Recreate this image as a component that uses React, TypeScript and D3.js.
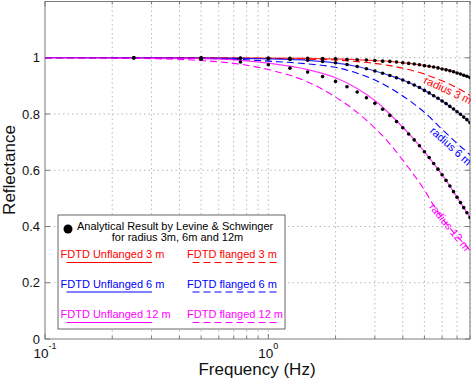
import React from "react";
import * as d3 from "d3";

// Analytical (Levine & Schwinger) points
const ANALYTIC_FREQ = [0.25, 0.5, 0.75, 1, 1.25, 1.5, 1.75, 2, 2.25, 2.5, 2.75, 3, 3.25, 3.5, 3.75, 4, 4.25, 4.5, 4.75, 5, 5.25, 5.5, 5.75, 6, 6.25, 6.5, 6.75, 7, 7.25, 7.5, 7.75, 8];
const ANALYTIC_3M = [1.0, 1.0, 0.999, 0.999, 0.998, 0.998, 0.997, 0.996, 0.994, 0.993, 0.992, 0.99, 0.988, 0.987, 0.985, 0.982, 0.98, 0.978, 0.975, 0.972, 0.97, 0.967, 0.964, 0.96, 0.957, 0.954, 0.95, 0.946, 0.942, 0.938, 0.934, 0.93];
const ANALYTIC_6M = [1.0, 0.999, 0.998, 0.996, 0.994, 0.991, 0.987, 0.982, 0.976, 0.969, 0.961, 0.953, 0.945, 0.937, 0.929, 0.921, 0.912, 0.903, 0.894, 0.884, 0.875, 0.865, 0.856, 0.846, 0.837, 0.827, 0.818, 0.808, 0.799, 0.789, 0.78, 0.77];
const ANALYTIC_12M = [0.999, 0.995, 0.985, 0.975, 0.963, 0.949, 0.933, 0.916, 0.897, 0.878, 0.858, 0.838, 0.817, 0.795, 0.773, 0.751, 0.729, 0.708, 0.687, 0.666, 0.645, 0.624, 0.604, 0.584, 0.564, 0.544, 0.524, 0.504, 0.485, 0.467, 0.449, 0.432];

// FDTD curves
const FDTD_FREQ = [0.1, 0.25, 0.5, 0.75, 1, 1.5, 2, 2.5, 3, 3.5, 4, 4.5, 5, 5.5, 6, 6.5, 7, 7.5, 8];
const UNFL_3M = [1, 1, 1, 0.999, 0.999, 0.998, 0.996, 0.993, 0.99, 0.987, 0.982, 0.978, 0.972, 0.967, 0.96, 0.954, 0.946, 0.938, 0.93];
const UNFL_6M = [1, 1, 0.999, 0.998, 0.996, 0.991, 0.982, 0.969, 0.953, 0.937, 0.921, 0.903, 0.884, 0.865, 0.846, 0.827, 0.808, 0.789, 0.77];
const UNFL_12M = [1, 0.999, 0.997, 0.991, 0.981, 0.958, 0.929, 0.891, 0.848, 0.8, 0.753, 0.709, 0.666, 0.624, 0.584, 0.544, 0.504, 0.467, 0.432];
const FL_3M = [1, 1, 0.9995, 0.999, 0.998, 0.995, 0.992, 0.986, 0.98, 0.972, 0.963, 0.953, 0.942, 0.93, 0.918, 0.906, 0.893, 0.88, 0.866];
const FL_6M = [1, 0.9995, 0.998, 0.994, 0.988, 0.978, 0.966, 0.945, 0.921, 0.893, 0.864, 0.835, 0.806, 0.775, 0.745, 0.72, 0.695, 0.675, 0.655];
const FL_12M = [1, 0.998, 0.99, 0.977, 0.958, 0.914, 0.86, 0.806, 0.75, 0.694, 0.636, 0.582, 0.53, 0.475, 0.43, 0.395, 0.365, 0.34, 0.315];

const Y_TICKS = [0, 0.2, 0.4, 0.6, 0.8, 1];
const Y_TICK_LABELS = ["0", "0.2", "0.4", "0.6", "0.8", "1"];
const X_MAJOR = [0.1, 1];
const X_MINOR = [0.2, 0.3, 0.4, 0.5, 0.6, 0.7, 0.8, 0.9, 2, 3, 4, 5, 6, 7, 8];
const X_EXP = ["-1", "0"];

const RED = "#ff0000";
const BLUE = "#0000ff";
const MAG = "#ff00ff";
const FONT = "'Liberation Sans', Arial, Helvetica, sans-serif";

export default function App() {
  const W = 474, H = 381;
  const L = 45, R = 470, T = 1.5, B = 339;
  const x = d3.scaleLog().domain([0.1, 8]).range([L, R]);
  const y = d3.scaleLinear().domain([0, 1.2]).range([B, T]);
  const line = d3
    .line<[number, number]>()
    .x((d) => x(d[0]))
    .y((d) => y(d[1]))
    .curve(d3.curveMonotoneX);
  const mk = (vals: number[]) => line(FDTD_FREQ.map((f, i) => [f, vals[i]] as [number, number])) || "";

  const gridColor = "#b8b8b8";
  const axisColor = "#7a7a7a";

  const solid = [
    { v: UNFL_3M, c: RED },
    { v: UNFL_6M, c: BLUE },
    { v: UNFL_12M, c: MAG },
  ];
  const dashed = [
    { v: FL_3M, c: RED },
    { v: FL_6M, c: BLUE },
    { v: FL_12M, c: MAG },
  ];
  const analytic = [ANALYTIC_3M, ANALYTIC_6M, ANALYTIC_12M];

  const legendRows = [
    { c: RED, a: "FDTD Unflanged 3 m", b: "FDTD flanged 3 m", ty: 258, ly: 262.5 },
    { c: BLUE, a: "FDTD Unflanged 6 m", b: "FDTD flanged 6 m", ty: 288, ly: 292 },
    { c: MAG, a: "FDTD Unflanged 12 m", b: "FDTD flanged 12 m", ty: 318, ly: 322.5 },
  ];

  const curveLabels = [
    { t: "radius 3 m", c: RED, cx: 448, cy: 90, a: 25 },
    { t: "radius 6 m", c: BLUE, cx: 451, cy: 146, a: 42 },
    { t: "radius 12 m", c: MAG, cx: 450, cy: 227, a: 51 },
  ];

  return (
    <svg width={W} height={H} style={{ display: "block", position: "absolute", left: 0, top: 0 }} fontFamily={FONT}>
      <rect x={0} y={0} width={W} height={H} fill="#fff" />
      <defs>
        <clipPath id="plotclip">
          <rect x={L} y={T} width={R - L} height={B - T} />
        </clipPath>
      </defs>
      {/* grid */}
      {[...X_MINOR, 1].map((f) => (
        <line key={"gx" + f} x1={x(f)} x2={x(f)} y1={T} y2={B} stroke={gridColor} strokeWidth={1} strokeDasharray="1.5,3" />
      ))}
      {Y_TICKS.filter((v) => v > 0).map((v) => (
        <line key={"gy" + v} x1={L} x2={R} y1={y(v)} y2={y(v)} stroke={gridColor} strokeWidth={1} strokeDasharray="1.5,3" />
      ))}
      {/* axes box */}
      <rect x={L} y={T} width={R - L} height={B - T} fill="none" stroke={axisColor} strokeWidth={1} />
      {/* y ticks */}
      {Y_TICKS.map((v, i) => (
        <g key={"yt" + v}>
          <line x1={L} x2={L + 5} y1={y(v)} y2={y(v)} stroke={axisColor} />
          <line x1={R} x2={R - 5} y1={y(v)} y2={y(v)} stroke={axisColor} />
          <text x={40} y={y(v)} textAnchor="end" dominantBaseline="central" fontSize={13} fill="#111">
            {Y_TICK_LABELS[i]}
          </text>
        </g>
      ))}
      {/* x ticks */}
      {X_MINOR.map((f) => (
        <g key={"xm" + f}>
          <line x1={x(f)} x2={x(f)} y1={B} y2={B - 3} stroke={axisColor} />
          <line x1={x(f)} x2={x(f)} y1={T} y2={T + 3} stroke={axisColor} />
        </g>
      ))}
      {X_MAJOR.map((f, i) => (
        <g key={"xM" + f}>
          <line x1={x(f)} x2={x(f)} y1={B} y2={B - 5} stroke={axisColor} />
          <line x1={x(f)} x2={x(f)} y1={T} y2={T + 5} stroke={axisColor} />
          <text x={x(f)} y={357.5} textAnchor="middle" fontSize={13.5} fill="#111">
            10<tspan fontSize={9} dy={-9}>{X_EXP[i]}</tspan>
          </text>
        </g>
      ))}
      {/* curves */}
      <g clipPath="url(#plotclip)">
        {dashed.map((s, i) => (
          <path key={"d" + i} d={mk(s.v)} fill="none" stroke={s.c} strokeWidth={1.1} strokeDasharray="7,4" />
        ))}
        {solid.map((s, i) => (
          <path key={"s" + i} d={mk(s.v)} fill="none" stroke={s.c} strokeWidth={1.2} strokeOpacity={0.8} />
        ))}
        {analytic.map((vals, k) =>
          vals.map((v, i) => <circle key={"p" + k + "-" + i} cx={x(ANALYTIC_FREQ[i])} cy={y(v)} r={1.8} fill="#000" />)
        )}
      </g>
      {/* curve labels */}
      {curveLabels.map((l) => (
        <text
          key={l.t}
          transform={`translate(${l.cx},${l.cy}) rotate(${l.a})`}
          textAnchor="middle"
          dominantBaseline="central"
          fontSize={11}
          fill={l.c}
        >
          {l.t}
        </text>
      ))}
      {/* legend */}
      <rect x={58} y={215} width={227} height={114} fill="#fff" stroke="#666" strokeWidth={1} />
      <circle cx={68} cy={229} r={4.5} fill="#000" />
      <text x={77} y={230} fontSize={11} fill="#000">
        Analytical Result by Levine &amp; Schwinger
      </text>
      <text x={177.5} y={240.5} fontSize={11} textAnchor="middle" fill="#000">
        for radius 3m, 6m and 12m
      </text>
      {legendRows.map((r) => (
        <g key={r.a}>
          <text x={60.5} y={r.ty} fontSize={11} fill={r.c}>
            {r.a}
          </text>
          <line x1={66.5} x2={152} y1={r.ly} y2={r.ly} stroke={r.c} strokeWidth={1.2} />
          <text x={187} y={r.ty} fontSize={11} fill={r.c}>
            {r.b}
          </text>
          <line x1={192.5} x2={278} y1={r.ly} y2={r.ly} stroke={r.c} strokeWidth={1.2} strokeDasharray="7,4" />
        </g>
      ))}
      {/* axis titles */}
      <text x={257} y={375} textAnchor="middle" fontSize={17} fill="#111">
        Frequency (Hz)
      </text>
      <text transform="translate(15,170) rotate(-90)" textAnchor="middle" fontSize={17} fill="#111">
        Reflectance
      </text>
    </svg>
  );
}
